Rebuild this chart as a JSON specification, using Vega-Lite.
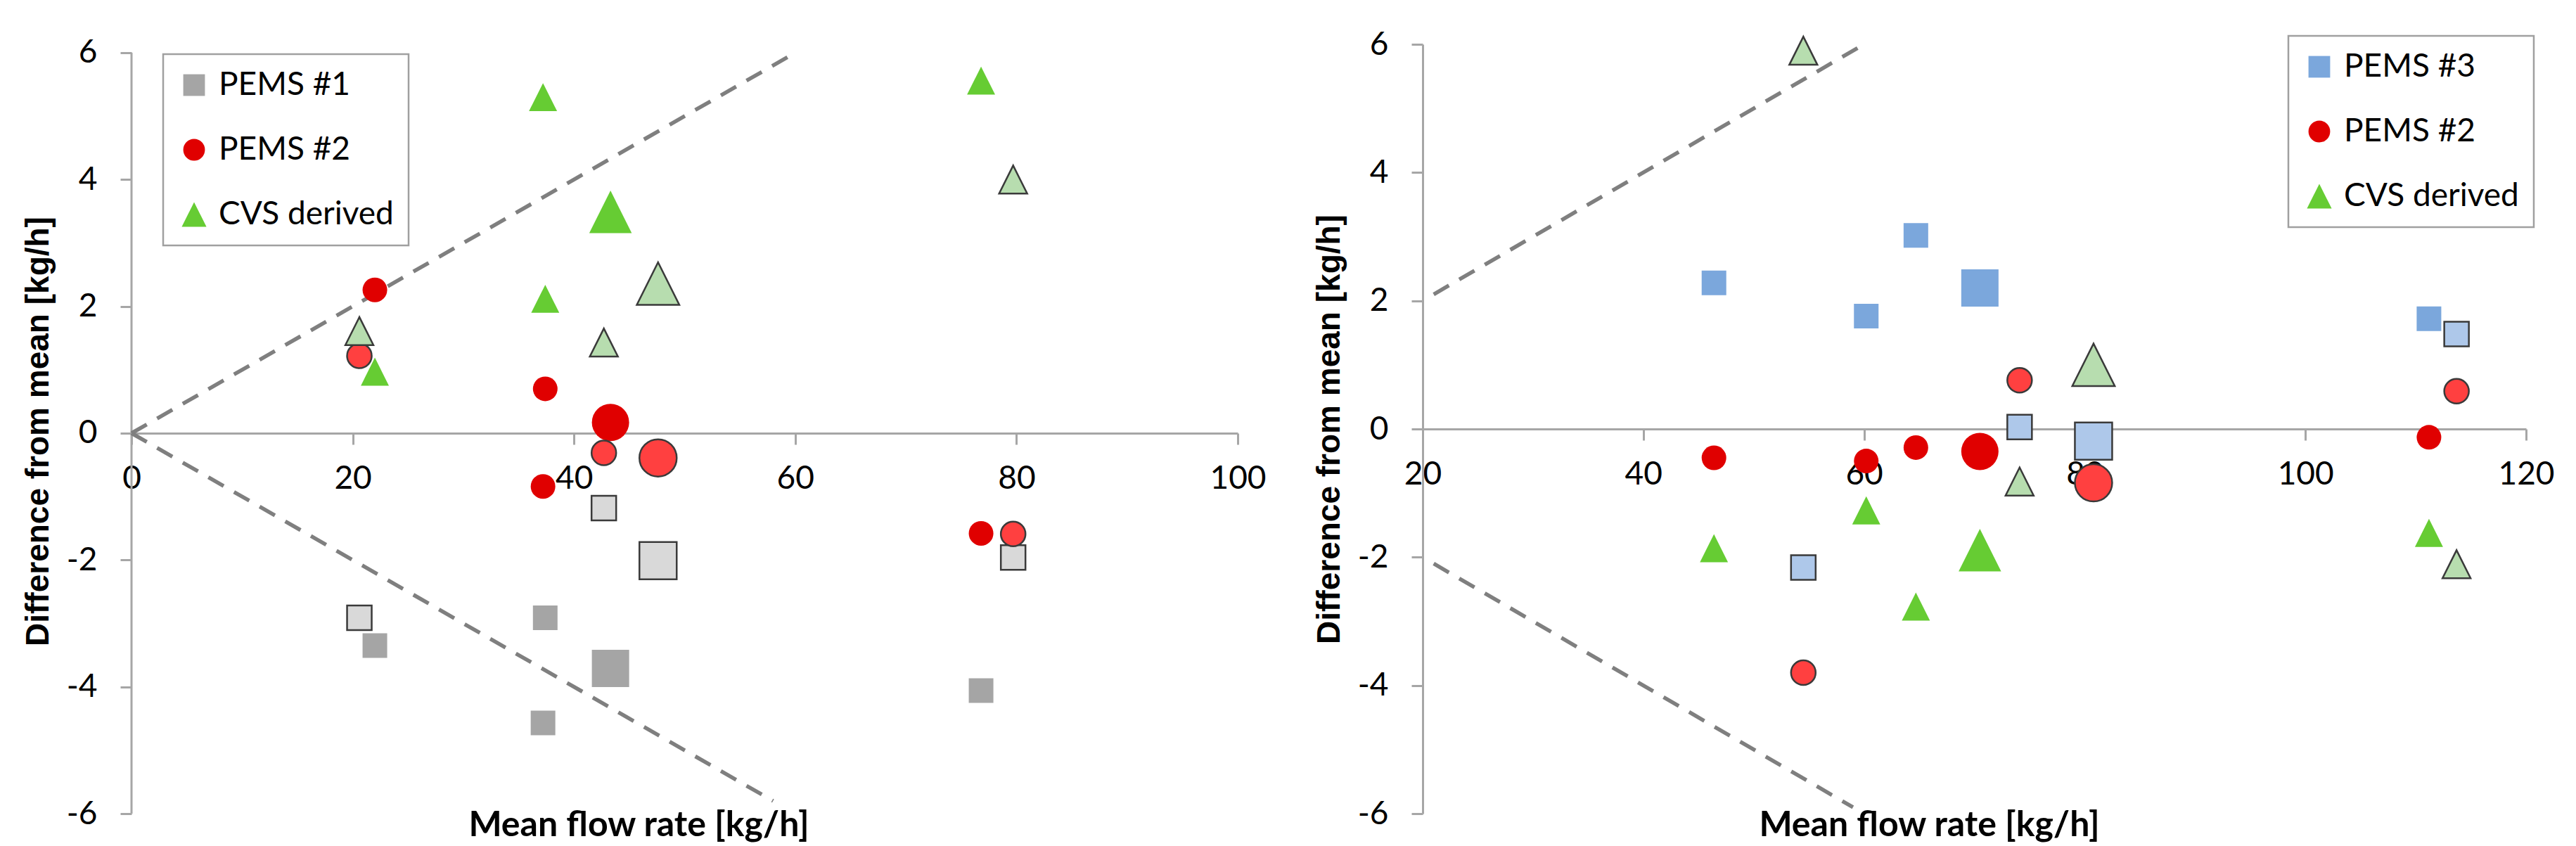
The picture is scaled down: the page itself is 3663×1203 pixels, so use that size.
{
  "$schema": "https://vega.github.io/schema/vega-lite/v6.json",
  "autosize": {"type": "pad"},
  "padding": {"left": 31, "top": 40, "right": 0, "bottom": 0},
  "bounds": "flush",
  "spacing": 263,
  "config": {
    "view": {"stroke": null},
    "axis": {
      "grid": false,
      "domainColor": "#A6A6A6",
      "domainWidth": 3,
      "tickColor": "#A6A6A6",
      "tickWidth": 3,
      "tickSize": 16,
      "labelFont": "Lato",
      "labelFontSize": 46,
      "labelColor": "#000000",
      "titleColor": "#000000"
    },
    "legend": {"strokeWidth": 2.5}
  },
  "datasets": {
    "left": [
      {"series": "PEMS #1", "x": 20.6, "y": -2.91, "run": "B", "grade": "normal"},
      {"series": "PEMS #1", "x": 22.0, "y": -3.35, "run": "A", "grade": "normal"},
      {"series": "PEMS #1", "x": 37.4, "y": -2.91, "run": "A", "grade": "normal"},
      {"series": "PEMS #1", "x": 37.2, "y": -4.57, "run": "A", "grade": "normal"},
      {"series": "PEMS #1", "x": 42.7, "y": -1.18, "run": "B", "grade": "normal"},
      {"series": "PEMS #1", "x": 43.3, "y": -3.71, "run": "A", "grade": "major"},
      {"series": "PEMS #1", "x": 47.6, "y": -2.01, "run": "B", "grade": "major"},
      {"series": "PEMS #1", "x": 76.8, "y": -4.06, "run": "A", "grade": "normal"},
      {"series": "PEMS #1", "x": 79.7, "y": -1.96, "run": "B", "grade": "normal"},
      {"series": "PEMS #2", "x": 22.0, "y": 2.26, "run": "A", "grade": "normal"},
      {"series": "PEMS #2", "x": 20.6, "y": 1.22, "run": "B", "grade": "normal"},
      {"series": "PEMS #2", "x": 37.4, "y": 0.70, "run": "A", "grade": "normal"},
      {"series": "PEMS #2", "x": 37.2, "y": -0.84, "run": "A", "grade": "normal"},
      {"series": "PEMS #2", "x": 43.3, "y": 0.17, "run": "A", "grade": "major"},
      {"series": "PEMS #2", "x": 42.7, "y": -0.31, "run": "B", "grade": "normal"},
      {"series": "PEMS #2", "x": 47.6, "y": -0.39, "run": "B", "grade": "major"},
      {"series": "PEMS #2", "x": 76.8, "y": -1.58, "run": "A", "grade": "normal"},
      {"series": "PEMS #2", "x": 79.7, "y": -1.59, "run": "B", "grade": "normal"},
      {"series": "CVS derived", "x": 37.2, "y": 5.30, "run": "A", "grade": "normal"},
      {"series": "CVS derived", "x": 76.8, "y": 5.56, "run": "A", "grade": "normal"},
      {"series": "CVS derived", "x": 79.7, "y": 4.00, "run": "B", "grade": "normal"},
      {"series": "CVS derived", "x": 43.3, "y": 3.49, "run": "A", "grade": "major"},
      {"series": "CVS derived", "x": 47.6, "y": 2.36, "run": "B", "grade": "major"},
      {"series": "CVS derived", "x": 37.4, "y": 2.12, "run": "A", "grade": "normal"},
      {"series": "CVS derived", "x": 20.6, "y": 1.61, "run": "B", "grade": "normal"},
      {"series": "CVS derived", "x": 22.0, "y": 0.97, "run": "A", "grade": "normal"},
      {"series": "CVS derived", "x": 42.7, "y": 1.43, "run": "B", "grade": "normal"}
    ],
    "right": [
      {"series": "PEMS #3", "x": 46.4, "y": 2.28, "run": "A", "grade": "normal"},
      {"series": "PEMS #3", "x": 60.2, "y": 1.76, "run": "A", "grade": "normal"},
      {"series": "PEMS #3", "x": 64.7, "y": 3.02, "run": "A", "grade": "normal"},
      {"series": "PEMS #3", "x": 70.5, "y": 2.20, "run": "A", "grade": "major"},
      {"series": "PEMS #3", "x": 111.2, "y": 1.72, "run": "A", "grade": "normal"},
      {"series": "PEMS #3", "x": 113.7, "y": 1.48, "run": "B", "grade": "normal"},
      {"series": "PEMS #3", "x": 74.1, "y": 0.03, "run": "B", "grade": "normal"},
      {"series": "PEMS #3", "x": 80.8, "y": -0.19, "run": "B", "grade": "major"},
      {"series": "PEMS #3", "x": 54.5, "y": -2.16, "run": "B", "grade": "normal"},
      {"series": "PEMS #2", "x": 46.4, "y": -0.45, "run": "A", "grade": "normal"},
      {"series": "PEMS #2", "x": 60.2, "y": -0.50, "run": "A", "grade": "normal"},
      {"series": "PEMS #2", "x": 64.7, "y": -0.29, "run": "A", "grade": "normal"},
      {"series": "PEMS #2", "x": 70.5, "y": -0.35, "run": "A", "grade": "major"},
      {"series": "PEMS #2", "x": 74.1, "y": 0.76, "run": "B", "grade": "normal"},
      {"series": "PEMS #2", "x": 80.8, "y": -0.84, "run": "B", "grade": "major"},
      {"series": "PEMS #2", "x": 54.5, "y": -3.80, "run": "B", "grade": "normal"},
      {"series": "PEMS #2", "x": 111.2, "y": -0.13, "run": "A", "grade": "normal"},
      {"series": "PEMS #2", "x": 113.7, "y": 0.59, "run": "B", "grade": "normal"},
      {"series": "CVS derived", "x": 54.5, "y": 5.90, "run": "B", "grade": "normal"},
      {"series": "CVS derived", "x": 46.4, "y": -1.86, "run": "A", "grade": "normal"},
      {"series": "CVS derived", "x": 60.2, "y": -1.27, "run": "A", "grade": "normal"},
      {"series": "CVS derived", "x": 64.7, "y": -2.77, "run": "A", "grade": "normal"},
      {"series": "CVS derived", "x": 70.5, "y": -1.89, "run": "A", "grade": "major"},
      {"series": "CVS derived", "x": 74.1, "y": -0.82, "run": "B", "grade": "normal"},
      {"series": "CVS derived", "x": 80.8, "y": 1.00, "run": "B", "grade": "major"},
      {"series": "CVS derived", "x": 111.2, "y": -1.62, "run": "A", "grade": "normal"},
      {"series": "CVS derived", "x": 113.7, "y": -2.11, "run": "B", "grade": "normal"}
    ],
    "leftRef": [
      {"line": "upper", "x": 0, "y": 0},
      {"line": "upper", "x": 60, "y": 6},
      {"line": "lower", "x": 0, "y": 0},
      {"line": "lower", "x": 58, "y": -5.8}
    ],
    "rightRef": [
      {"line": "upper", "x": 21, "y": 2.1},
      {"line": "upper", "x": 60, "y": 6},
      {"line": "lower", "x": 21, "y": -2.1},
      {"line": "lower", "x": 59, "y": -5.9}
    ]
  },
  "hconcat": [
    {
      "width": 1573,
      "height": 1094,
      "data": {"name": "left"},
      "layer": [
        {
          "data": {"values": [{}]},
          "mark": {"type": "rule", "color": "#A6A6A6", "strokeWidth": 3},
          "encoding": {
            "x": {"datum": 0, "type": "quantitative", "scale": {"domain": [0, 100], "nice": false}},
            "y": {"datum": -6, "type": "quantitative", "scale": {"domain": [-6, 6.133], "nice": false, "zero": false}},
            "y2": {"datum": 6}
          }
        },
        {
          "data": {"name": "leftRef"},
          "mark": {"type": "line", "color": "#7F7F7F", "strokeWidth": 5.5, "strokeDash": [25, 17]},
          "encoding": {
            "x": {"field": "x", "type": "quantitative", "scale": {"domain": [0, 100], "nice": false},
              "axis": {"orient": "bottom", "offset": -541, "values": [0, 20, 40, 60, 80, 100], "labelFlush": false,
                "labelBaseline": "alphabetic", "labelPadding": 62, "labelOverlap": false,
                "title": "Mean flow rate [kg/h]", "titleFont": "Lato", "titleFontWeight": "bold", "titleFontSize": 50,
                "titleX": 721, "titleY": 572, "titleAlign": "center", "titleBaseline": "alphabetic", "titleAngle": 0}},
            "y": {"field": "y", "type": "quantitative", "scale": {"domain": [-6, 6.133], "nice": false, "zero": false},
              "axis": {"values": [-6, -4, -2, 0, 2, 4, 6], "domain": false, "labelPadding": 33, "labelExpr": "toString(datum.value)",
                "title": "Difference from mean [kg/h]", "titleFont": "Liberation Sans", "titleFontWeight": "bold", "titleFontSize": 46,
                "titleX": -133, "titleY": 550, "titleAlign": "center", "titleBaseline": "middle", "titleAngle": -90}},
            "detail": {"field": "line"}
          }
        },
        {
          "transform": [{"filter": "datum.run === 'A'"}],
          "mark": {"type": "point", "filled": true, "opacity": 1, "strokeWidth": 0},
          "encoding": {
            "x": {"field": "x", "type": "quantitative", "scale": {"domain": [0, 100], "nice": false}},
            "y": {"field": "y", "type": "quantitative", "scale": {"domain": [-6, 6.133], "nice": false, "zero": false}},
            "color": {"field": "series", "type": "nominal",
              "scale": {"domain": ["PEMS #1", "PEMS #2", "CVS derived"], "range": ["#A5A5A5", "#E00000", "#66CC33"]},
              "legend": {"orient": "none", "legendX": 45, "legendY": 14, "title": null, "padding": 21, "strokeColor": "#A0A0A0", "fillColor": "#FFFFFF",
                "labelFont": "Lato", "labelFontSize": 46, "labelColor": "#000000", "labelOffset": 12, "rowPadding": 46, "symbolSize": 950,
                "symbolStrokeWidth": 0, "symbolOpacity": 1, "labelLimit": 500}},
            "shape": {"field": "series", "type": "nominal",
              "scale": {"domain": ["PEMS #1", "PEMS #2", "CVS derived"], "range": ["square", "circle", "M0,-1.14L1.14,1.14L-1.14,1.14Z"]},
              "legend": {"orient": "none", "legendX": 45, "legendY": 14, "title": null, "padding": 21, "strokeColor": "#A0A0A0", "fillColor": "#FFFFFF",
                "labelFont": "Lato", "labelFontSize": 46, "labelColor": "#000000", "labelOffset": 12, "rowPadding": 46, "symbolSize": 950,
                "symbolStrokeWidth": 0, "symbolOpacity": 1, "labelLimit": 500}},
            "size": {"field": "grade", "type": "ordinal", "scale": {"domain": ["normal", "major"], "range": [1225, 2809]}, "legend": null}
          }
        },
        {
          "transform": [{"filter": "datum.run === 'B'"}],
          "mark": {"type": "point", "filled": true, "opacity": 1, "stroke": "#3A3A3A", "strokeWidth": 2.5},
          "encoding": {
            "x": {"field": "x", "type": "quantitative", "scale": {"domain": [0, 100], "nice": false}},
            "y": {"field": "y", "type": "quantitative", "scale": {"domain": [-6, 6.133], "nice": false, "zero": false}},
            "fill": {"field": "series", "type": "nominal",
              "scale": {"domain": ["PEMS #1", "PEMS #2", "CVS derived"], "range": ["#D9D9D9", "#FF4040", "#B7DDAF"]}, "legend": null},
            "shape": {"field": "series", "type": "nominal",
              "scale": {"domain": ["PEMS #1", "PEMS #2", "CVS derived"], "range": ["square", "circle", "M0,-1.14L1.14,1.14L-1.14,1.14Z"]},
              "legend": {"orient": "none", "legendX": 45, "legendY": 14, "title": null, "padding": 21, "strokeColor": "#A0A0A0", "fillColor": "#FFFFFF",
                "labelFont": "Lato", "labelFontSize": 46, "labelColor": "#000000", "labelOffset": 12, "rowPadding": 46, "symbolSize": 950,
                "symbolStrokeWidth": 0, "symbolOpacity": 1, "labelLimit": 500}},
            "size": {"field": "grade", "type": "ordinal", "scale": {"domain": ["normal", "major"], "range": [1225, 2809]}, "legend": null}
          }
        }
      ]
    },
    {
      "width": 1569,
      "height": 1094,
      "data": {"name": "right"},
      "layer": [
        {
          "data": {"name": "rightRef"},
          "mark": {"type": "line", "color": "#7F7F7F", "strokeWidth": 5.5, "strokeDash": [25, 17]},
          "encoding": {
            "x": {"field": "x", "type": "quantitative", "scale": {"domain": [20, 120], "nice": false, "zero": false},
              "axis": {"orient": "bottom", "offset": -547, "values": [20, 40, 60, 80, 100, 120], "labelFlush": false,
                "labelBaseline": "alphabetic", "labelPadding": 62, "labelOverlap": false,
                "title": "Mean flow rate [kg/h]", "titleFont": "Lato", "titleFontWeight": "bold", "titleFontSize": 50,
                "titleX": 720, "titleY": 578, "titleAlign": "center", "titleBaseline": "alphabetic", "titleAngle": 0}},
            "y": {"field": "y", "type": "quantitative", "scale": {"domain": [-6, 6], "nice": false, "zero": false},
              "axis": {"values": [-6, -4, -2, 0, 2, 4, 6], "labelPadding": 33, "labelExpr": "toString(datum.value)",
                "title": "Difference from mean [kg/h]", "titleFont": "Liberation Sans", "titleFontWeight": "bold", "titleFontSize": 46,
                "titleX": -133, "titleY": 547, "titleAlign": "center", "titleBaseline": "middle", "titleAngle": -90}},
            "detail": {"field": "line"}
          }
        },
        {
          "transform": [{"filter": "datum.run === 'A'"}],
          "mark": {"type": "point", "filled": true, "opacity": 1, "strokeWidth": 0},
          "encoding": {
            "x": {"field": "x", "type": "quantitative", "scale": {"domain": [20, 120], "nice": false, "zero": false}},
            "y": {"field": "y", "type": "quantitative", "scale": {"domain": [-6, 6], "nice": false, "zero": false}},
            "color": {"field": "series", "type": "nominal",
              "scale": {"domain": ["PEMS #3", "PEMS #2", "CVS derived"], "range": ["#7BA7DC", "#E00000", "#66CC33"]},
              "legend": {"orient": "none", "legendX": 1231, "legendY": -12, "title": null, "padding": 21, "strokeColor": "#A0A0A0", "fillColor": "#FFFFFF",
                "labelFont": "Lato", "labelFontSize": 46, "labelColor": "#000000", "labelOffset": 12, "rowPadding": 46, "symbolSize": 950,
                "symbolStrokeWidth": 0, "symbolOpacity": 1, "labelLimit": 500}},
            "shape": {"field": "series", "type": "nominal",
              "scale": {"domain": ["PEMS #3", "PEMS #2", "CVS derived"], "range": ["square", "circle", "M0,-1.14L1.14,1.14L-1.14,1.14Z"]},
              "legend": {"orient": "none", "legendX": 1231, "legendY": -12, "title": null, "padding": 21, "strokeColor": "#A0A0A0", "fillColor": "#FFFFFF",
                "labelFont": "Lato", "labelFontSize": 46, "labelColor": "#000000", "labelOffset": 12, "rowPadding": 46, "symbolSize": 950,
                "symbolStrokeWidth": 0, "symbolOpacity": 1, "labelLimit": 500}},
            "size": {"field": "grade", "type": "ordinal", "scale": {"domain": ["normal", "major"], "range": [1225, 2809]}, "legend": null}
          }
        },
        {
          "transform": [{"filter": "datum.run === 'B'"}],
          "mark": {"type": "point", "filled": true, "opacity": 1, "stroke": "#3A3A3A", "strokeWidth": 2.5},
          "encoding": {
            "x": {"field": "x", "type": "quantitative", "scale": {"domain": [20, 120], "nice": false, "zero": false}},
            "y": {"field": "y", "type": "quantitative", "scale": {"domain": [-6, 6], "nice": false, "zero": false}},
            "fill": {"field": "series", "type": "nominal",
              "scale": {"domain": ["PEMS #3", "PEMS #2", "CVS derived"], "range": ["#AEC8EA", "#FF4040", "#B7DDAF"]}, "legend": null},
            "shape": {"field": "series", "type": "nominal",
              "scale": {"domain": ["PEMS #3", "PEMS #2", "CVS derived"], "range": ["square", "circle", "M0,-1.14L1.14,1.14L-1.14,1.14Z"]},
              "legend": {"orient": "none", "legendX": 1231, "legendY": -12, "title": null, "padding": 21, "strokeColor": "#A0A0A0", "fillColor": "#FFFFFF",
                "labelFont": "Lato", "labelFontSize": 46, "labelColor": "#000000", "labelOffset": 12, "rowPadding": 46, "symbolSize": 950,
                "symbolStrokeWidth": 0, "symbolOpacity": 1, "labelLimit": 500}},
            "size": {"field": "grade", "type": "ordinal", "scale": {"domain": ["normal", "major"], "range": [1225, 2809]}, "legend": null}
          }
        }
      ]
    }
  ],
  "resolve": {
    "scale": {"x": "independent", "y": "independent", "color": "independent", "fill": "independent", "shape": "independent", "size": "independent"},
    "axis": {"x": "independent", "y": "independent"},
    "legend": {"color": "independent", "shape": "independent", "fill": "independent", "size": "independent"}
  }
}
